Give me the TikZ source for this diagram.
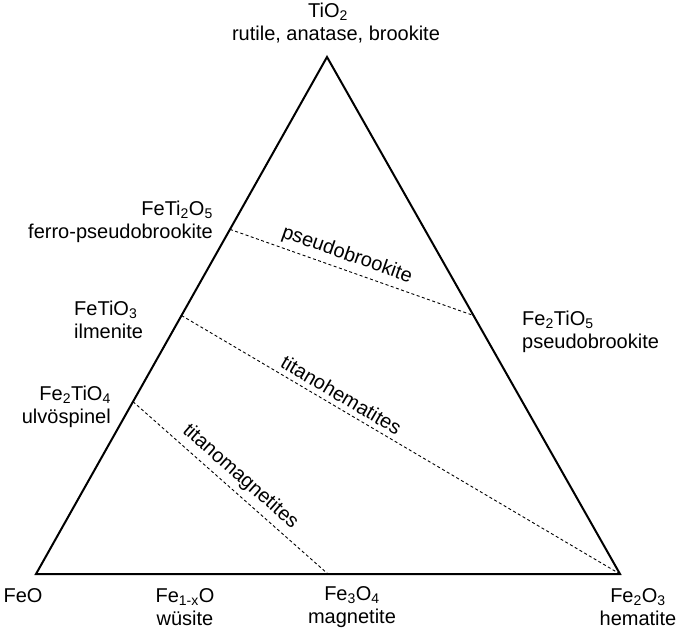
\documentclass[tikz,border=0pt]{standalone}
\usepackage{fontspec}
\setmainfont{Liberation Sans}
\usetikzlibrary{calc}
\newcommand{\sbs}[1]{\textsubscript{#1}}
\begin{document}
\begin{tikzpicture}[x=1pt,y=-1pt,
  lbl/.style={font=\fontsize{20}{23}\selectfont, inner sep=0pt, align=center},
  edge/.style={line width=2pt, line join=miter},
  tie/.style={line width=0.9pt, dash pattern=on 3pt off 2.5pt},
  tielbl/.style={font=\fontsize{20}{23}\selectfont, sloped, anchor=south, inner sep=5pt}]
\useasboundingbox (0,0) rectangle (685,635);
% corners
\coordinate (A) at (327,57);
\coordinate (L) at (36,574);
\coordinate (R) at (620,574);
% composition points
\coordinate (fts) at ($(L)!2/3!(A)$);
\coordinate (ilm) at ($(L)!1/2!(A)$);
\coordinate (ulv) at ($(L)!1/3!(A)$);
\coordinate (psb) at ($(A)!1/2!(R)$);
\coordinate (mag) at ($(L)!1/2!(R)$);
% triangle
\draw[edge] (A) -- (L) -- (R) -- cycle;
% tie lines
\draw[tie] (fts) -- (psb) node[tielbl, pos=0.46] {pseudobrookite};
\draw[tie] (ilm) -- (R) node[tielbl, pos=0.35] {titanohematites};
\draw[tie] (ulv) -- (mag) node[tielbl, pos=0.50] {titanomagnetites};
% labels
\node[lbl] (tio2) at (328,12) {TiO\sbs{2}};
\node[lbl] (rut) at (336,35) {rutile, anatase, brookite};
\node[lbl, align=right, anchor=east] (ftslbl) at (213,222) {FeTi\sbs{2}O\sbs{5}\\ferro-pseudobrookite};
\node[lbl, align=left, anchor=west] (ilmlbl) at (74,320) {FeTiO\sbs{3}\\ilmenite};
\node[lbl, align=right, anchor=east] (ulvlbl) at (111,407) {Fe\sbs{2}TiO\sbs{4}\\ulvöspinel};
\node[lbl, align=left, anchor=west] (psblbl) at (522,332) {Fe\sbs{2}TiO\sbs{5}\\pseudobrookite};
\node[lbl] (feo) at (23,596) {FeO};
\node[lbl] (wus) at (185,607) {Fe\sbs{1-x}O\\wüsite};
\node[lbl] (maglbl) at (352,607) {Fe\sbs{3}O\sbs{4}\\magnetite};
\node[lbl] (hem) at (638,607) {Fe\sbs{2}O\sbs{3}\\hematite};
\end{tikzpicture}
\end{document}
